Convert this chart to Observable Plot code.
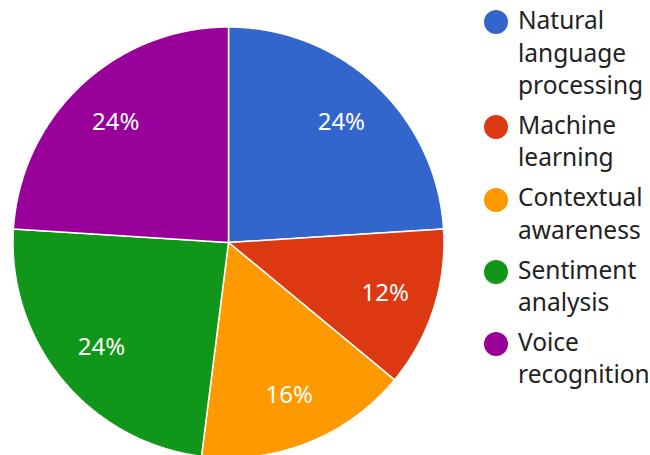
<!DOCTYPE html>
<html>
<head>
<meta charset="utf-8">
<script src="https://cdn.jsdelivr.net/npm/d3@7"></script>
<script src="https://cdn.jsdelivr.net/npm/@observablehq/plot@0.6"></script>
<style>
  html, body { margin: 0; padding: 0; background: #fff; }
  #wrap { position: relative; width: 650px; height: 455px; overflow: hidden; font-family: "Noto Sans", sans-serif; }
  #chart { position: absolute; left: 0; top: 0; }
  #legend { position: absolute; left: 484px; top: 4.2px; }
  .item { display: flex; align-items: flex-start; margin-bottom: 7.3px; }
  .sw { width: 24px; height: 24px; border-radius: 50%; margin-top: 6.3px; margin-right: 10px; flex: none; }
  .lab { font-size: 24.5px; line-height: 32.5px; color: #222; white-space: nowrap; }
</style>
</head>
<body>
<div id="wrap"><div id="chart"></div><div id="legend"></div></div>
<script>
const categories = ["Natural language processing", "Machine learning", "Contextual awareness", "Sentiment analysis", "Voice recognition"];
const legendLines = [["Natural", "language", "processing"], ["Machine", "learning"], ["Contextual", "awareness"], ["Sentiment", "analysis"], ["Voice", "recognition"]];
const values = [24, 12, 16, 24, 24];
const colors = ["#3366cc", "#dc3912", "#ff9900", "#109618", "#990099"];

const total = d3.sum(values);
const pie = d3.pie().sort(null).value(d => d.value)(categories.map((name, i) => ({name, value: values[i]})));

// polygon points for each slice in unit coordinates (angle clockwise from top)
const pts = [];
for (const s of pie) {
  const name = s.data.name;
  pts.push({name, x: 0, y: 0});
  const n = Math.max(2, Math.ceil((s.endAngle - s.startAngle) / (Math.PI / 360)));
  for (let k = 0; k <= n; k++) {
    const a = s.startAngle + (s.endAngle - s.startAngle) * k / n;
    pts.push({name, x: Math.sin(a), y: Math.cos(a)});
  }
  pts.push({name, x: 0, y: 0});
}
const labels = pie.map(s => {
  const a = (s.startAngle + s.endAngle) / 2;
  return {name: s.data.name, x: 0.765 * Math.sin(a), y: 0.765 * Math.cos(a), text: Math.round(100 * s.data.value / total) + "%"};
});

const cx = 228, cy = 242, r = 215.5;
const chart = Plot.plot({
  width: 470, height: 455,
  margin: 0,
  x: {domain: [-1, 1], range: [cx - r, cx + r], axis: null},
  y: {domain: [-1, 1], range: [cy + r, cy - r], axis: null},
  color: {domain: categories, range: colors},
  style: {fontFamily: "Noto Sans", background: "white"},
  marks: [
    Plot.line(pts, {x: "x", y: "y", z: "name", fill: "name", stroke: "white", strokeWidth: 1.5, strokeLinejoin: "round", curve: "linear"}),
    Plot.text(labels, {x: "x", y: "y", text: "text", fill: "white", fontSize: 24, textAnchor: "middle"})
  ]
});
document.getElementById("chart").appendChild(chart);

const legend = document.getElementById("legend");
categories.forEach((c, i) => {
  const item = document.createElement("div");
  item.className = "item";
  const sw = document.createElement("div");
  sw.className = "sw";
  sw.style.background = colors[i];
  const lab = document.createElement("div");
  lab.className = "lab";
  lab.innerHTML = legendLines[i].join("<br>");
  item.appendChild(sw); item.appendChild(lab);
  legend.appendChild(item);
});
</script>
</body>
</html>
